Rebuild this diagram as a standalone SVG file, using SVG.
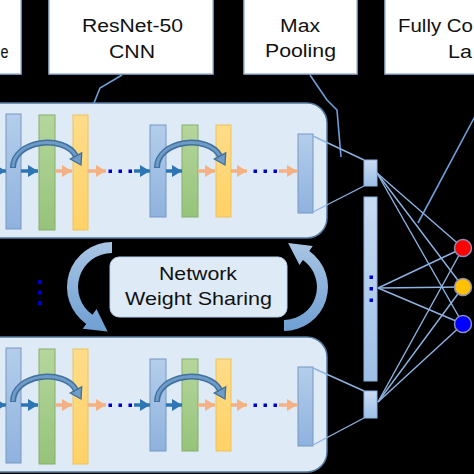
<svg xmlns="http://www.w3.org/2000/svg" xmlns:xlink="http://www.w3.org/1999/xlink" width="474" height="474" viewBox="0 0 474 474">
<style>
.lbl{font-family:"Liberation Sans",Arial,sans-serif;font-size:17.5px;fill:#111;text-anchor:middle}
.box{fill:#fff;stroke:#9FB9D8;stroke-width:1.5}
.panel{fill:#DEEBF7;stroke:#56799E;stroke-width:1.5}
.bb{fill:url(#gBlue);stroke:#7697C2;stroke-width:1}
.bg{fill:url(#gGreen);stroke:#86AE6C;stroke-width:1}
.by{fill:url(#gYel);stroke:#EEC25A;stroke-width:1}
.ab{stroke:#2E75B6;stroke-width:3.5;fill:none;marker-end:url(#mb)}
.ao{stroke:#F4B183;stroke-width:3.5;fill:none;marker-end:url(#mo)}
.dot{fill:#0000CC}
.lead{stroke:#6F9FD8;stroke-width:1.6;fill:none}
.fc{stroke:#8DB4E2;stroke-width:1.4;fill:none}
.pool{fill:url(#gPool);stroke:#8DB4E2;stroke-width:1}
</style>
<defs>
<linearGradient id="gBlue" x1="0" y1="0" x2="0" y2="1"><stop offset="0" stop-color="#B4CDEB"/><stop offset="1" stop-color="#8FB2DD"/></linearGradient>
<linearGradient id="gGreen" x1="0" y1="0" x2="0" y2="1"><stop offset="0" stop-color="#B5D69D"/><stop offset="1" stop-color="#96C37A"/></linearGradient>
<linearGradient id="gYel" x1="0" y1="0" x2="0" y2="1"><stop offset="0" stop-color="#FFDC8A"/><stop offset="1" stop-color="#FFD266"/></linearGradient>
<linearGradient id="gPool" x1="0" y1="0" x2="0" y2="1"><stop offset="0" stop-color="#C9DCF1"/><stop offset="1" stop-color="#9EBFE6"/></linearGradient>
<linearGradient id="gArc" x1="0" y1="0" x2="0" y2="1"><stop offset="0" stop-color="#A9C5E3"/><stop offset="1" stop-color="#6F9FD3"/></linearGradient>
<marker id="mb" markerWidth="10" markerHeight="12" refX="10" refY="6" orient="auto" markerUnits="userSpaceOnUse"><path d="M0,0 L10,6 L0,12 Z" fill="#2E75B6"/></marker>
<marker id="mo" markerWidth="10" markerHeight="12" refX="10" refY="6" orient="auto" markerUnits="userSpaceOnUse"><path d="M0,0 L10,6 L0,12 Z" fill="#F4B183"/></marker>
<g id="skip">
<path d="M13,168 C13,140 64,134 76,156" fill="none" stroke="#41719C" stroke-width="6"/>
<path d="M13,167 C13,140 64,134 76,156" fill="none" stroke="#6E9BC8" stroke-width="3"/>
<polygon points="81.7,152.9 70.3,159.1 81,165" fill="#6E9BC8" stroke="#41719C" stroke-width="1.3"/>
</g>
</defs>
<rect x="0" y="0" width="474" height="474" fill="#000"/>

<g id="box-input"><rect class="box" x="-40" y="-2" width="61" height="76"/><text class="lbl" x="8.5" y="58" style="text-anchor:end" textLength="8" lengthAdjust="spacingAndGlyphs">e</text></g>
<g id="box-resnet"><rect class="box" x="49" y="-2" width="164" height="76"/><text class="lbl" x="132.5" y="32" textLength="101" lengthAdjust="spacingAndGlyphs">ResNet-50</text><text class="lbl" x="132" y="58" textLength="46" lengthAdjust="spacingAndGlyphs">CNN</text></g>
<g id="box-maxpool"><rect class="box" x="244" y="-2" width="113" height="76"/><text class="lbl" x="300" y="32" textLength="40" lengthAdjust="spacingAndGlyphs">Max</text><text class="lbl" x="300.5" y="57" textLength="71" lengthAdjust="spacingAndGlyphs">Pooling</text></g>
<g id="box-fc"><rect class="box" x="385" y="-2" width="100" height="76"/><text class="lbl" x="398" y="32" style="text-anchor:start" textLength="75" lengthAdjust="spacingAndGlyphs">Fully Co</text><text class="lbl" x="448" y="58" style="text-anchor:start" textLength="24" lengthAdjust="spacingAndGlyphs">La</text></g>

<g id="cnn-top">
<rect class="panel" x="-20" y="103" width="347" height="135" rx="20"/>
<rect class="bb" x="6" y="114" width="15" height="115"/>
<rect class="bg" x="39" y="115" width="16" height="115"/>
<rect class="by" x="73" y="115" width="15" height="115"/>
<rect class="bb" x="150" y="125" width="16" height="92"/>
<rect class="bg" x="182" y="125" width="16" height="92"/>
<rect class="by" x="216" y="125" width="15" height="92"/>
<rect class="bb" x="298" y="134" width="15" height="79"/>
<use xlink:href="#skip"/>
<use xlink:href="#skip" transform="translate(144,0)"/>
</g>

<g id="cnn-bottom">
<rect class="panel" x="-20" y="337" width="347" height="135" rx="20"/>
<rect class="bb" x="6" y="348" width="15" height="115"/>
<rect class="bg" x="39" y="349" width="16" height="115"/>
<rect class="by" x="73" y="349" width="15" height="115"/>
<rect class="bb" x="150" y="359" width="16" height="92"/>
<rect class="bg" x="182" y="359" width="16" height="92"/>
<rect class="by" x="216" y="359" width="15" height="92"/>
<rect class="bb" x="298" y="367" width="15" height="79"/>
<use xlink:href="#skip" transform="translate(0,234)"/>
<use xlink:href="#skip" transform="translate(144,234)"/>
</g>

<g id="weight-sharing">
<rect x="110" y="257" width="177" height="60" rx="9" fill="#DEEBF7" stroke="#B8CFE8" stroke-width="1"/>
<text x="198" y="280" font-family="Liberation Sans,Arial,sans-serif" font-size="18.5" fill="#111" text-anchor="middle" textLength="78" lengthAdjust="spacingAndGlyphs">Network</text>
<text x="198.5" y="305" font-family="Liberation Sans,Arial,sans-serif" font-size="18.5" fill="#111" text-anchor="middle" textLength="147" lengthAdjust="spacingAndGlyphs">Weight Sharing</text>
</g>

<g id="share-arrows">
<path d="M112,242 A45,45 0 0,0 86.2,323.9 L82.7,328.8 L107.6,331.5 L96.5,309.1 L92.5,314.8 A34,34 0 0,1 112,253 Z" fill="url(#gArc)"/>
<path d="M284,331 A44,44 0 0,0 309.3,251 L312.7,246 L288.1,242.9 L299.5,264.9 L302.9,260 A33,33 0 0,1 284,320 Z" fill="url(#gArc)"/>
</g>

<g id="vdots">
<rect class="dot" x="38" y="280" width="4" height="4"/>
<rect class="dot" x="38" y="290.5" width="4" height="4"/>
<rect class="dot" x="38" y="301" width="4" height="4"/>
</g>

<g id="pool-vector">
<rect class="pool" x="364" y="160" width="13" height="26"/>
<rect class="pool" x="364" y="197" width="13" height="184"/>
<rect class="pool" x="364" y="391" width="13" height="27"/>
<rect class="dot" x="369.5" y="275.5" width="3.5" height="3.5"/>
<rect class="dot" x="369.5" y="287" width="3.5" height="3.5"/>
<rect class="dot" x="369.5" y="298.5" width="3.5" height="3.5"/>
</g>

<g id="connectors">
<line class="ab" x1="-4" y1="171" x2="6" y2="171"/>
<line class="ab" x1="21" y1="171" x2="38" y2="171"/>
<line class="ao" x1="55" y1="171" x2="72" y2="171"/>
<line class="ao" x1="88" y1="171" x2="106" y2="171"/>
<rect class="dot" x="108.5" y="169.5" width="3.5" height="3.5"/>
<rect class="dot" x="118.5" y="169.5" width="3.5" height="3.5"/>
<rect class="dot" x="128.5" y="169.5" width="3.5" height="3.5"/>
<line class="ab" x1="134" y1="171" x2="150" y2="171"/>
<line class="ab" x1="166" y1="171" x2="182" y2="171"/>
<line class="ao" x1="198" y1="171" x2="215" y2="171"/>
<line class="ao" x1="231" y1="171" x2="247" y2="171"/>
<rect class="dot" x="253.5" y="169.5" width="3.5" height="3.5"/>
<rect class="dot" x="263.5" y="169.5" width="3.5" height="3.5"/>
<rect class="dot" x="273.5" y="169.5" width="3.5" height="3.5"/>
<line class="ao" x1="279" y1="171" x2="297" y2="171"/>

<line class="ab" x1="-4" y1="405" x2="6" y2="405"/>
<line class="ab" x1="21" y1="405" x2="38" y2="405"/>
<line class="ao" x1="55" y1="405" x2="72" y2="405"/>
<line class="ao" x1="88" y1="405" x2="106" y2="405"/>
<rect class="dot" x="108.5" y="403.5" width="3.5" height="3.5"/>
<rect class="dot" x="118.5" y="403.5" width="3.5" height="3.5"/>
<rect class="dot" x="128.5" y="403.5" width="3.5" height="3.5"/>
<line class="ab" x1="134" y1="405" x2="150" y2="405"/>
<line class="ab" x1="166" y1="405" x2="182" y2="405"/>
<line class="ao" x1="198" y1="405" x2="215" y2="405"/>
<line class="ao" x1="231" y1="405" x2="247" y2="405"/>
<rect class="dot" x="253.5" y="403.5" width="3.5" height="3.5"/>
<rect class="dot" x="263.5" y="403.5" width="3.5" height="3.5"/>
<rect class="dot" x="273.5" y="403.5" width="3.5" height="3.5"/>
<line class="ao" x1="279" y1="405" x2="297" y2="405"/>

<polyline class="lead" points="122,75 100,88 94,103"/>
<polyline class="lead" points="310,75 327,100 337,110 341,157"/>
<line class="lead" x1="497" y1="75" x2="418" y2="223"/>

<line class="fc" x1="313" y1="136" x2="364" y2="160"/>
<line class="fc" x1="313" y1="212" x2="364" y2="186"/>
<line class="fc" x1="313" y1="368" x2="364" y2="391"/>
<line class="fc" x1="313" y1="445" x2="364" y2="418"/>

<line class="fc" x1="377" y1="173" x2="463" y2="248"/>
<line class="fc" x1="377" y1="173" x2="463" y2="287"/>
<line class="fc" x1="377" y1="173" x2="463" y2="324"/>
<line class="fc" x1="378" y1="288" x2="463" y2="248"/>
<line class="fc" x1="378" y1="288" x2="463" y2="287"/>
<line class="fc" x1="378" y1="288" x2="463" y2="324"/>
<line class="fc" x1="378" y1="402" x2="463" y2="248"/>
<line class="fc" x1="378" y1="402" x2="463" y2="287"/>
<line class="fc" x1="378" y1="402" x2="463" y2="324"/>
</g>

<g id="out-red"><circle cx="463" cy="248" r="8.5" fill="#FF0000" stroke="#8E8EB8" stroke-width="1.5"/></g>
<g id="out-yellow"><circle cx="463" cy="287" r="8.5" fill="#FFC000" stroke="#8E8EB8" stroke-width="1.5"/></g>
<g id="out-blue"><circle cx="463" cy="324" r="8.5" fill="#0000FF" stroke="#8E8EB8" stroke-width="1.5"/></g>
</svg>
